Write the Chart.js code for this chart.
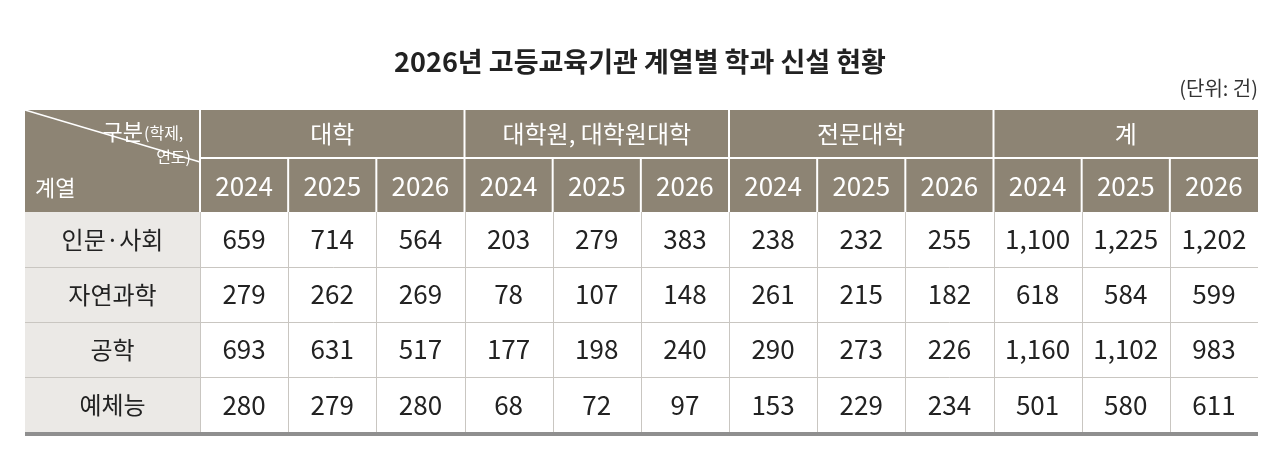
<!DOCTYPE html>
<html><head><meta charset="utf-8">
<script src="https://cdn.jsdelivr.net/npm/chart.js@4"></script>
<style>
body{margin:0;background:#fff;font-family:"Noto Sans CJK KR",sans-serif}
#wrap{position:relative;width:1280px;height:467px}
</style></head><body>
<div id="wrap"><canvas id="c" width="1280" height="467"></canvas></div>
<script>
const title = "2026년 고등교육기관 계열별 학과 신설 현황";
const unit = "(단위: 건)";
const groups = ["대학", "대학원, 대학원대학", "전문대학", "계"];
const years = ["2024", "2025", "2026"];
const categories = ["인문·사회", "자연과학", "공학", "예체능"];
const univ =     [["659","714","564"],["279","262","269"],["693","631","517"],["280","279","280"]];
const grad =     [["203","279","383"],["78","107","148"],["177","198","240"],["68","72","97"]];
const college =  [["238","232","255"],["261","215","182"],["290","273","226"],["153","229","234"]];
const total =    [["1,100","1,225","1,202"],["618","584","599"],["1,160","1,102","983"],["501","580","611"]];

const series = [univ, grad, college, total];
const LABEL_W = 175, COL_W = (1233 - LABEL_W) / 12;
const ROWS = [0, 48, 102, 157, 212, 267, 323];
const points = [];
categories.forEach((c, r) => series.forEach((s, g) => years.forEach((y, k) => {
  points.push({x: LABEL_W + COL_W * (g * 3 + k + 0.5), y: (ROWS[r + 2] + ROWS[r + 3]) / 2, t: s[r][k]});
})));

const HEAD = "#8d8474", GRID = "#c9c6c1";
const tablePlugin = {
  id: "table",
  beforeDatasetsDraw(chart) {
    const {ctx, scales: {x, y}} = chart;
    const X = v => x.getPixelForValue(v), Y = v => y.getPixelForValue(v);
    ctx.save();
    ctx.fillStyle = HEAD;
    ctx.fillRect(X(0), Y(0), X(1233) - X(0), Y(102) - Y(0));
    ctx.fillStyle = "#ebe9e6";
    ctx.fillRect(X(0), Y(102), X(LABEL_W) - X(0), Y(323) - Y(102));
    // body grid
    ctx.strokeStyle = GRID; ctx.lineWidth = 1;
    for (let r = 3; r < 6; r++) { ctx.beginPath(); ctx.moveTo(X(0), Y(ROWS[r]) + .5); ctx.lineTo(X(1233), Y(ROWS[r]) + .5); ctx.stroke(); }
    for (let i = 0; i < 12; i++) { const px = Math.round(X(LABEL_W + COL_W * i)) + .5; ctx.beginPath(); ctx.moveTo(px, Y(102)); ctx.lineTo(px, Y(323)); ctx.stroke(); }
    // header lines
    ctx.strokeStyle = "#fff"; ctx.lineWidth = 2;
    ctx.beginPath(); ctx.moveTo(X(LABEL_W), Y(48)); ctx.lineTo(X(1233), Y(48)); ctx.stroke();
    for (let i = 0; i < 12; i++) {
      const px = X(LABEL_W + COL_W * i);
      ctx.beginPath(); ctx.moveTo(px, Y(i % 3 === 0 ? 0 : 48)); ctx.lineTo(px, Y(102)); ctx.stroke();
    }
    ctx.lineWidth = 1.5;
    ctx.beginPath(); ctx.moveTo(X(0), Y(0)); ctx.lineTo(X(LABEL_W), Y(52)); ctx.stroke();
    // bottom rule
    ctx.fillStyle = "#8f8f8f";
    ctx.fillRect(X(0), Y(323) - 1, X(1233) - X(0), 4);
    // header text
    ctx.fillStyle = "#fff"; ctx.textAlign = "center"; ctx.textBaseline = "middle";
    ctx.font = "24px 'Noto Sans CJK KR'";
    groups.forEach((g, i) => ctx.fillText(g, X(LABEL_W + COL_W * (i * 3 + 1.5)), Y(24)));
    ctx.font = "26px 'Noto Sans CJK KR'";
    for (let i = 0; i < 12; i++) ctx.fillText(years[i % 3], X(LABEL_W + COL_W * (i + 0.5)), Y(76));
    ctx.textAlign = "right";
    ctx.font = "22px 'Noto Sans CJK KR'";
    ctx.fillText("구분", X(118), Y(22));
    ctx.font = "16px 'Noto Sans CJK KR'";
    ctx.textAlign = "left"; ctx.fillText("(학제,", X(119), Y(23));
    ctx.textAlign = "right"; ctx.fillText("연도)", X(166), Y(47));
    ctx.textAlign = "left"; ctx.font = "22px 'Noto Sans CJK KR'";
    ctx.fillText("계열", X(10), Y(78));
    // row labels
    ctx.textAlign = "center"; ctx.fillStyle = "#222"; ctx.font = "24px 'Noto Sans CJK KR'";
    categories.forEach((c, r) => ctx.fillText(c, X(LABEL_W / 2), Y((ROWS[r + 2] + ROWS[r + 3]) / 2)));
    ctx.restore();
  },
  afterDatasetsDraw(chart) {
    const {ctx} = chart, meta = chart.getDatasetMeta(0);
    ctx.save();
    ctx.fillStyle = "#222"; ctx.textAlign = "center"; ctx.textBaseline = "middle";
    ctx.font = "26px 'Noto Sans CJK KR'";
    meta.data.forEach((el, i) => ctx.fillText(points[i].t, el.x, el.y));
    ctx.font = "bold 27px 'Noto Sans CJK KR'";
    ctx.fillText(title, 640, 62);
    ctx.font = "20px 'Noto Sans CJK KR'"; ctx.textAlign = "right"; ctx.fillStyle = "#333";
    ctx.fillText(unit, 1258, 88);
    ctx.restore();
  }
};

new Chart(document.getElementById("c"), {
  type: "scatter",
  data: {datasets: [{data: points, pointRadius: 0}]},
  options: {
    responsive: false, animation: false,
    layout: {padding: {left: 25, right: 22, top: 110, bottom: 34}},
    plugins: {legend: {display: false}, tooltip: {enabled: false}},
    scales: {
      x: {type: "linear", min: 0, max: 1233, display: false},
      y: {type: "linear", min: 0, max: 323, reverse: true, display: false}
    }
  },
  plugins: [tablePlugin]
});
</script>
</body></html>
